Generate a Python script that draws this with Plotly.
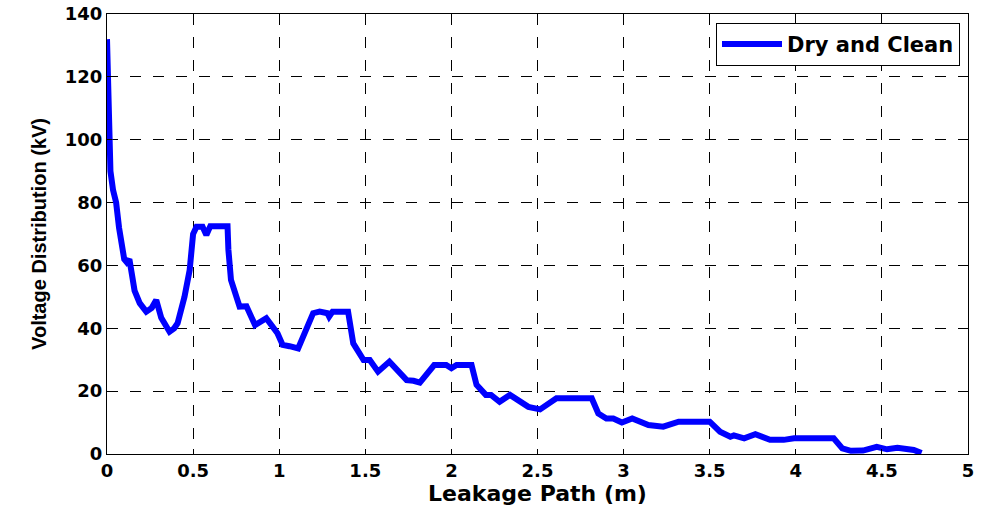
import plotly.graph_objects as go

leakage_path_m = [0, 0.005, 0.01, 0.02, 0.035, 0.053, 0.07, 0.09, 0.10, 0.115, 0.13, 0.145,
                  0.16, 0.19, 0.228, 0.26, 0.286, 0.315, 0.34, 0.363, 0.39, 0.41, 0.45, 0.48,
                  0.50, 0.52, 0.555, 0.577, 0.60, 0.65, 0.70, 0.705, 0.72, 0.77, 0.81, 0.86,
                  0.925, 0.99, 1.02, 1.06, 1.11, 1.197, 1.235, 1.28, 1.29, 1.31, 1.40, 1.43,
                  1.49, 1.526, 1.574, 1.64, 1.74, 1.78, 1.817, 1.90, 1.97, 2.0, 2.03, 2.117,
                  2.146, 2.20, 2.23, 2.28, 2.34, 2.447, 2.515, 2.61, 2.70, 2.72, 2.815, 2.853,
                  2.90, 2.94, 2.99, 3.05, 3.144, 3.23, 3.32, 3.40, 3.50, 3.56, 3.62, 3.64,
                  3.70, 3.765, 3.85, 3.93, 3.99, 4.10, 4.22, 4.27, 4.32, 4.39, 4.47, 4.53,
                  4.59, 4.685, 4.73]
voltage_kv = [132, 120, 100, 90, 84, 80, 72, 66, 62, 61, 62, 57,
              52, 48, 45.3, 46.5, 49, 43.3, 41, 38.9, 40, 41.6, 50, 58.5,
              70, 72.3, 72.3, 69.7, 72.5, 72.3, 72.5, 65, 55.4, 46.9, 47, 41,
              43.2, 38.4, 34.7, 34.3, 33.6, 44.8, 45.3, 44.8, 43.7, 45.3, 45.3, 35.2,
              29.9, 29.9, 26.2, 29.4, 23.5, 23.3, 22.7, 28.3, 28.3, 27.3, 28.3, 28.3,
              22, 18.8, 18.8, 16.6, 18.8, 15, 14.2, 17.7, 17.7, 17.4, 17.7, 12.9,
              11.3, 11.3, 10, 11.3, 9.2, 8.7, 10.3, 10.3, 10.3, 7.1, 5.5, 5.9,
              5.0, 6.3, 4.5, 4.5, 5.0, 5.0, 5.0, 1.8, 1.0, 1.1, 2.3, 1.5,
              2.0, 1.3, 0.3]

x_ticks = [0, 0.5, 1, 1.5, 2, 2.5, 3, 3.5, 4, 4.5, 5]
x_tick_labels = ["0", "0.5", "1", "1.5", "2", "2.5", "3", "3.5", "4", "4.5", "5"]
y_ticks = [0, 20, 40, 60, 80, 100, 120, 140]

fig = go.Figure()
fig.add_trace(go.Scatter(
    x=leakage_path_m, y=voltage_kv, mode="lines", name="Dry and Clean",
    line=dict(color="#0000FF", width=6),
))

axis_common = dict(
    showline=True, linecolor="black", linewidth=1, mirror="ticks",
    ticks="inside", ticklen=5, tickcolor="black",
    showgrid=True, gridcolor="black", gridwidth=1, griddash="11px,12px",
    zeroline=False, automargin=False,
    tickfont=dict(family="DejaVu Sans", size=18, color="black", weight="bold"),
)

fig.update_layout(
    width=993, height=514,
    margin=dict(l=107, r=25, t=14, b=60),
    paper_bgcolor="white", plot_bgcolor="white",
    xaxis=dict(range=[0, 5], tickvals=x_ticks, ticktext=x_tick_labels,
               title=dict(text="Leakage Path (m)", standoff=2,
                          font=dict(family="DejaVu Sans", size=22, color="black", weight="bold")),
               **axis_common),
    yaxis=dict(range=[0, 140], tickvals=y_ticks,
               title=dict(text="Voltage Distribution (kV)", standoff=12,
                          font=dict(family="Liberation Sans", size=20, color="black", weight="bold")),
               **axis_common),
    legend=dict(x=0.9907, y=0.98, xanchor="right", yanchor="top",
                bgcolor="white", bordercolor="black", borderwidth=1,
                font=dict(family="DejaVu Sans", size=21, color="black", weight="bold"),
                itemwidth=60, tracegroupgap=0),
    showlegend=True,
)

fig.write_html("out.html")
